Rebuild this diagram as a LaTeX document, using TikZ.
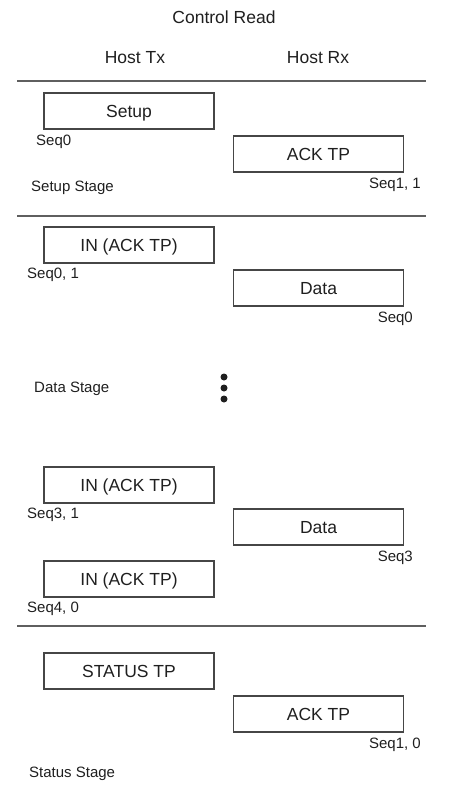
\documentclass[tikz,border=0pt]{standalone}
\usepackage{fontspec}
\setmainfont{Liberation Sans}
\usetikzlibrary{positioning}
\definecolor{rulegray}{RGB}{95,95,95}
\definecolor{boxgray}{RGB}{70,70,70}

\begin{document}
\begin{tikzpicture}[x=1pt,y=-1pt,
 every node/.style={font=\fontsize{15}{18}\selectfont,text=black!88},
 pkt/.style={draw=boxgray,line width=1.3pt,minimum width=170pt,minimum height=36pt,
 inner sep=0pt,text height=12.5pt,text depth=0pt,font=\fontsize{17.5}{20}\selectfont},
 head/.style={inner sep=0pt,text height=12.5pt,text depth=0pt,font=\fontsize{17.5}{20}\selectfont},
 seq/.style={inner sep=0pt,text height=10.7pt,text depth=0pt},
 dot/.style={circle,fill=black!88,inner sep=0pt,minimum size=7pt},
 sep/.style={draw=rulegray,line width=1.1pt}]
\useasboundingbox (0,0) rectangle (474,786);
\node[head] (title) at (224,17) {Control Read};
\node[head] (tx) at (135,57) {Host Tx};
\node[head] (rx) at (318,57) {Host Rx};
\draw[sep] (17,81) -- (426,81);
% setup stage
\node[pkt] (setup) at (129,111) {Setup};
\node[seq,anchor=west] (s0) at (36,140) {Seq0};
\node[pkt] (ack1) at (318.5,154) {ACK TP};
\node[seq,anchor=east] (s11) at (421,183) {Seq1, 1};
\node[seq,anchor=west] (setupst) at (31,186) {Setup Stage};
\draw[sep] (17,216) -- (426,216);
% data stage
\node[pkt] (in0) at (129,245) {IN (ACK TP)};
\node[seq,anchor=west] (s01) at (27,273) {Seq0, 1};
\node[pkt] (data0) at (318.5,288) {Data};
\node[seq,anchor=east] (sd0) at (413,317) {Seq0};
\node[seq,anchor=west] (datast) at (34,387) {Data Stage};
\node[dot] (d1) at (224,377) {};
\node[dot] (d2) at (224,388) {};
\node[dot] (d3) at (224,399) {};
\node[pkt] (in3) at (129,485) {IN (ACK TP)};
\node[seq,anchor=west] (s31) at (27,513) {Seq3, 1};
\node[pkt] (data3) at (318.5,527) {Data};
\node[seq,anchor=east] (sd3) at (413,556) {Seq3};
\node[pkt] (in4) at (129,579) {IN (ACK TP)};
\node[seq,anchor=west] (s40) at (27,607) {Seq4, 0};
\draw[sep] (17,626) -- (426,626);
% status stage
\node[pkt] (status) at (129,671) {STATUS TP};
\node[pkt] (ack2) at (318.5,714) {ACK TP};
\node[seq,anchor=east] (s10) at (421,743) {Seq1, 0};
\node[seq,anchor=west] (statusst) at (29,772) {Status Stage};
\end{tikzpicture}
\end{document}
